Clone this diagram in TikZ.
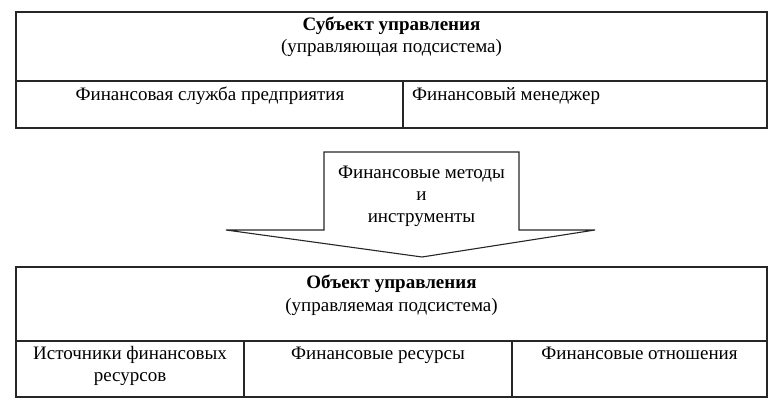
\documentclass[tikz,border=0pt]{standalone}
\usepackage{fontspec}
\setmainfont{Liberation Serif}
\begin{document}
\begin{tikzpicture}[x=1pt,y=-1pt,
  frame/.style={draw=black!85,line width=1.3pt},
  txt/.style={anchor=base,inner sep=0pt,font=\fontsize{19}{22}\selectfont,text=black},
  btxt/.style={txt,font=\fontsize{19}{22}\selectfont\bfseries}]
\useasboundingbox (0,0) rectangle (780,412);
% top block
\draw[frame] (16,12) rectangle (767,128);
\draw[frame] (16,81) -- (767,81);
\draw[frame] (403,81) -- (403,128);
\node[btxt] (subj) at (391.5,31) {Субъект управления};
\node[txt] (subj2) at (391.5,53) {(управляющая подсистема)};
\node[txt] (fs) at (210,101) {Финансовая служба предприятия};
\node[txt,anchor=base west] (fm) at (412,101) {Финансовый менеджер};
% arrow
\draw[frame,line width=1.1pt,line join=miter] (324,152) -- (519,152) -- (519,230) -- (595,230) -- (422,257) -- (226,230) -- (324,230) -- cycle;
\node[txt] (ar1) at (421.5,178) {Финансовые методы};
\node[txt] (ar2) at (421.5,200) {и};
\node[txt] (ar3) at (421.5,222) {инструменты};
% bottom block
\draw[frame] (16,267) rectangle (767,397);
\draw[frame] (16,341) -- (767,341);
\draw[frame] (244,341) -- (244,397);
\draw[frame] (512,341) -- (512,397);
\node[btxt] (obj) at (391.5,288) {Объект управления};
\node[txt] (obj2) at (391.5,311) {(управляемая подсистема)};
\node[txt] (c1) at (130,359) {Источники финансовых};
\node[txt] (c1b) at (130,381) {ресурсов};
\node[txt] (c2) at (378,359) {Финансовые ресурсы};
\node[txt] (c3) at (639.5,359) {Финансовые отношения};
\end{tikzpicture}
\end{document}
